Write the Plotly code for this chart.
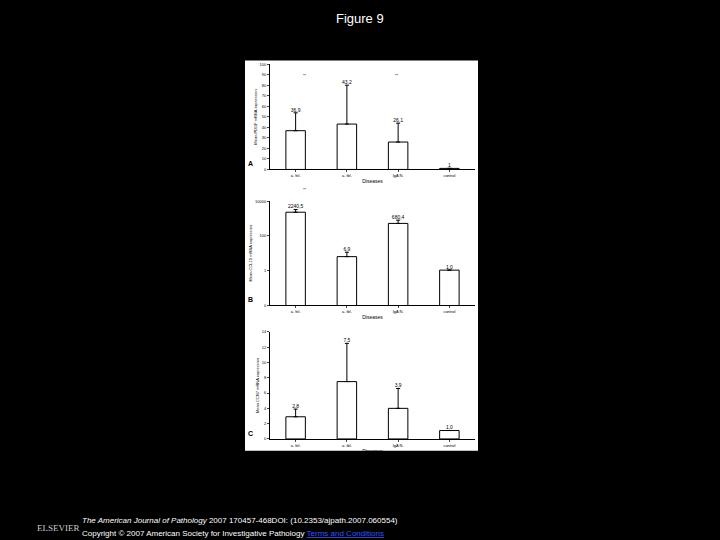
import plotly.graph_objects as go
from plotly.subplots import make_subplots

categories = ["a. fel.", "a. tbl.", "IgA N.", "control"]
a_values = [36.9, 43.2, 26.1, 1.0]
a_err = [17, 37, 18, 0]
a_labels = ["36,9", "43,2", "26,1", "1"]
b_values = [2300, 6.3, 520, 1.05]
b_err = [1000, 5, 280, 0]
b_labels = ["2240,5", "6,9", "680,4", "1,0"]
c_values = [2.9, 7.5, 4.0, 1.1]
c_err = [1.0, 5.0, 2.6, 0]
c_labels = ["2,8", "7,5", "3,9", "1,0"]

W, H = 720, 540


def px(x):
    return x / W


def py(y):
    return 1 - y / H


fig = make_subplots(rows=3, cols=1)
panels = [(a_values, a_err, a_labels), (b_values, b_err, b_labels), (c_values, c_err, c_labels)]
for i, (vals, err, labs) in enumerate(panels, start=1):
    fig.add_trace(go.Bar(
        x=categories, y=vals, width=0.38,
        marker=dict(color="white", line=dict(color="black", width=1)),
        error_y=dict(type="data", symmetric=False, array=err, arrayminus=[0] * 4,
                     color="black", thickness=1, width=2),
        showlegend=False,
    ), row=i, col=1)
    tops = [v + e for v, e in zip(vals, err)]
    fig.add_trace(go.Scatter(
        x=categories, y=tops, mode="text", text=labs, textposition="top center",
        textfont=dict(size=5, color="black"), showlegend=False,
    ), row=i, col=1)

doms_y = [(py(168), py(62)), (py(305), py(200)), (py(440), py(332))]
ytitles = ["Mean PDGF mRNA expression", "Mean CCL19 mRNA expression", "Mean CCR7 mRNA expression"]
for i in range(3):
    xa = "xaxis" if i == 0 else f"xaxis{i + 1}"
    ya = "yaxis" if i == 0 else f"yaxis{i + 1}"
    fig.layout[xa].update(domain=[px(270), px(475)], showline=True, linecolor="black", linewidth=1,
                          ticks="outside", ticklen=2, tickfont=dict(size=4, color="black"),
                          title=dict(text="Diseases", font=dict(size=5, color="black"), standoff=2))
    fig.layout[ya].update(domain=list(doms_y[i]), showline=True, linecolor="black", linewidth=1,
                          showgrid=False, ticks="outside", ticklen=2,
                          tickfont=dict(size=4, color="black"),
                          title=dict(text=ytitles[i], font=dict(size=4, color="black"), standoff=2))
fig.layout.yaxis.update(range=[0, 100], dtick=10)
fig.layout.yaxis2.update(type="log", range=[-2, 4], tickvals=[0.01, 1, 100, 10000],
                         ticktext=["0", "1", "100", "10000"])
fig.layout.yaxis3.update(range=[0, 14], dtick=2)

fig.add_shape(type="rect", xref="paper", yref="paper", x0=px(245), x1=px(478), y0=py(452), y1=py(58),
              fillcolor="white", line=dict(width=0), layer="below")

for lab, yy in [("A", 168), ("B", 305), ("C", 440)]:
    fig.add_annotation(text=f"<b>{lab}</b>", x=px(246), y=py(yy), xref="paper", yref="paper",
                       showarrow=False, xanchor="left", yanchor="bottom",
                       font=dict(size=7, color="black"))
for txt, xx, yy in [("**", 305, 69), ("**", 397, 69), ("**", 305, 188)]:
    fig.add_annotation(text=txt, x=px(xx), y=py(yy), xref="paper", yref="paper", showarrow=False,
                       font=dict(size=4, color="black"))

fig.add_annotation(text="Figure 9", x=px(360), y=py(6), xref="paper", yref="paper", showarrow=False,
                   font=dict(size=13, color="white"))
fig.add_annotation(
    text="<i>The American Journal of Pathology</i> 2007 170457-468DOI: (10.2353/ajpath.2007.060554)",
    x=px(80), y=py(529), xref="paper", yref="paper", showarrow=False, xanchor="left",
    font=dict(size=8, color="white"))
fig.add_annotation(
    text="Copyright © 2007 American Society for Investigative Pathology "
         "<span style='color:#3355ff'><u>Terms and Conditions</u></span>",
    x=px(80), y=py(542), xref="paper", yref="paper", showarrow=False, xanchor="left",
    font=dict(size=8, color="white"))
fig.add_annotation(text="ELSEVIER", x=px(35), y=py(537), xref="paper", yref="paper",
                   showarrow=False, font=dict(size=9, color="#cccccc", family="Liberation Serif"))

fig.update_layout(width=W, height=H, margin=dict(l=0, r=0, t=0, b=0),
                  paper_bgcolor="black", plot_bgcolor="white", bargap=0.5,
                  font=dict(family="Liberation Sans"))
fig.write_html("out.html", config={"displayModeBar": False},
               post_script="document.body.style.margin='0';document.body.style.background='black';")
